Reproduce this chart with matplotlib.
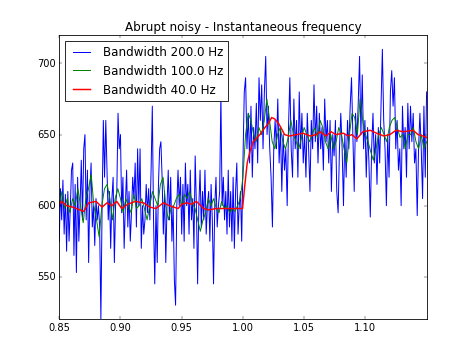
import matplotlib
matplotlib.use('Agg')
import matplotlib.pyplot as plt
import numpy as np

# Instantaneous frequency estimates (Hz)
# 200 Hz bandwidth, before and after the jump at t = 1.0 s
blue_pre = [
    575, 612, 590, 618, 580, 608, 568, 610, 575, 598, 625, 630, 565, 615, 553, 620,
    575, 600, 632, 590, 640, 650, 590, 625, 560, 610, 630, 585, 600, 572, 605, 590,
    600, 585, 520, 600, 660, 620, 660, 625, 590, 610, 570, 605, 620, 560, 600, 610,
    665, 640, 650, 595, 620, 570, 600, 625, 585, 610, 575, 595, 620, 605, 630, 585,
    640, 600, 640, 570, 600, 580, 590, 615, 595, 612, 590, 625, 670, 590, 545, 600,
    560, 615, 640, 645, 620, 580, 610, 560, 600, 625, 590, 620, 575, 600, 548, 530,
    600, 625, 600, 620, 580, 615, 575, 630, 600, 615, 580, 625, 590, 605, 570, 635,
    600, 545, 600, 625, 585, 610, 590, 625, 580, 600, 610, 575, 615, 590, 545, 600,
    620, 585, 600, 610, 678, 600, 620, 590, 610, 580, 625, 585, 610, 575, 620, 570,
    610, 630, 580, 600, 610, 575,
]
blue_post = [
    630, 680, 690, 640, 665, 630, 670, 620, 655, 640, 672, 630, 690, 660, 685, 640,
    680, 705, 650, 670, 640, 620, 585, 640, 660, 640, 675, 630, 655, 610, 650, 625,
    640, 600, 655, 690, 640, 620, 675, 640, 660, 620, 680, 640, 665, 630, 650, 620,
    665, 640, 610, 660, 640, 685, 645, 670, 630, 665, 640, 655, 625, 675, 645, 660,
    630, 660, 610, 650, 635, 660, 610, 595, 640, 665, 640, 600, 650, 620, 660, 640,
    670, 690, 650, 610, 665, 645, 672, 705, 650, 692, 640, 660, 620, 655, 630, 592,
    640, 665, 630, 650, 615, 655, 630, 670, 710, 660, 640, 600, 650, 620, 680, 695,
    670, 690, 640, 660, 625, 640, 600, 670, 640, 655, 620, 672, 640, 670, 645, 665,
    630, 640, 593, 640, 665, 640, 605, 670, 620, 680,
]

# 100 Hz bandwidth
green_vals = [
    600, 610, 598, 605, 595, 605, 600, 612, 600, 588, 605, 612, 622, 600, 590, 578,
    600, 612, 615, 605, 590, 605, 612, 605, 595, 605, 600, 595, 608, 598, 600, 605,
    598, 590, 600, 610, 605, 600, 615, 620, 600, 590, 598, 600, 605, 608, 600, 608,
    605, 610, 602, 598, 590, 582, 590, 595, 605, 600, 605, 598, 595, 603, 598, 600,
    595, 598, 596, 600, 605, 620, 650, 665, 660, 650, 645, 655, 650, 660, 675, 660,
    645, 640, 650, 655, 645, 640, 648, 660, 650, 645, 640, 648, 655, 650, 645, 650,
    655, 648, 660, 655, 645, 640, 650, 640, 645, 655, 650, 640, 630, 650, 665, 662,
    650, 675, 660, 650, 645, 638, 632, 640, 650, 655, 650, 645, 655, 660, 662, 655,
    648, 650, 640, 650, 650, 655, 645, 640, 650, 640, 645,
]

# 40 Hz bandwidth, sampled at the times where the curve changes
red_t = [
    0.850, 0.852, 0.856, 0.861, 0.870, 0.874, 0.880, 0.885, 0.889, 0.893, 0.897,
    0.901, 0.906, 0.912, 0.919, 0.924, 0.929, 0.935, 0.940, 0.947, 0.950, 0.954,
    0.958, 0.962, 0.968, 0.972, 0.978, 0.992, 0.9997, 1.0016, 1.0035, 1.0057,
    1.0084, 1.0139, 1.018, 1.021, 1.0234, 1.026, 1.029, 1.0316, 1.034, 1.038,
    1.044, 1.049, 1.055, 1.060, 1.063, 1.068, 1.072, 1.076, 1.082, 1.086, 1.089,
    1.093, 1.098, 1.104, 1.109, 1.115, 1.120, 1.125, 1.131, 1.139, 1.143, 1.147,
    1.150,
]
red_vals = [
    601, 603, 600, 599, 596, 602, 603, 599, 602, 600, 603, 598, 601, 603, 602,
    599, 598, 602, 600, 598, 601, 602, 601, 603, 598, 597, 598, 598, 598, 615,
    630, 638, 645, 650, 655, 658, 662, 661, 658, 654, 650, 649, 650, 651, 649,
    650, 652, 649, 652, 650, 651, 649, 650, 647, 652, 653, 651, 649, 650, 653,
    652, 653, 650, 649, 648,
]

labels = ['Bandwidth 200.0 Hz', 'Bandwidth 100.0 Hz', 'Bandwidth 40.0 Hz']

plt.style.use('classic')
fig = plt.figure(figsize=(8, 6), dpi=59.25, facecolor='white')
ax = fig.add_subplot(111)

t_blue = np.concatenate([np.linspace(0.85, 1.0, len(blue_pre), endpoint=False),
                         np.linspace(1.0, 1.15, len(blue_post))])
blue_vals = blue_pre + blue_post
t_green = np.linspace(0.85, 1.15, len(green_vals))

ax.plot(t_blue, blue_vals, color='b', linewidth=1.2, label=labels[0])
ax.plot(t_green, green_vals, color='g', linewidth=1.2, label=labels[1])
ax.plot(red_t, red_vals, color='r', linewidth=1.8, label=labels[2])

ax.set_xlim(0.85, 1.15)
ax.set_ylim(520, 720)
ax.set_xticks([0.85, 0.90, 0.95, 1.00, 1.05, 1.10])
ax.set_yticks([550, 600, 650, 700])
ax.set_title('Abrupt noisy - Instantaneous frequency')
ax.legend(loc='upper left')

fig.savefig('out.png', dpi=59.25, facecolor='white')
